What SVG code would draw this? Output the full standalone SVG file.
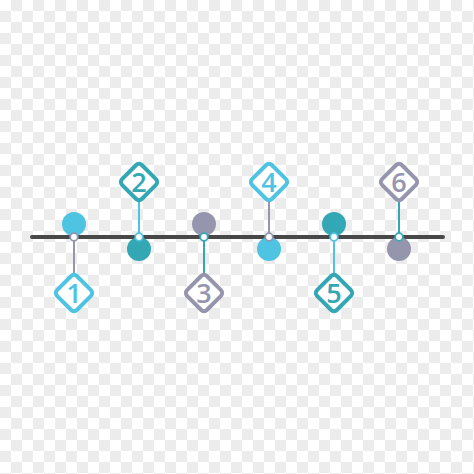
<svg xmlns="http://www.w3.org/2000/svg" width="474" height="474" viewBox="0 0 474 474">
<defs>
<pattern id="chk" x="0" y="0" width="22" height="22" patternUnits="userSpaceOnUse">
<rect width="22" height="22" fill="#ffffff"/>
<rect x="11" y="0" width="11" height="11" fill="#ececec"/>
<rect x="0" y="11" width="11" height="11" fill="#ececec"/>
</pattern>
</defs>
<style>
.dia{fill:#ffffff;stroke-width:4;}
.num{font-family:"Open Sans","Liberation Sans",sans-serif;font-size:27px;font-weight:600;text-anchor:middle;}
.stem{stroke-width:2;}
.dot{fill:#ffffff;stroke-width:1.8;}
.lb{fill:#4fc3e2;stroke:#4fc3e2;}
.tl{fill:#34a7b5;stroke:#34a7b5;}
.gy{fill:#9596ae;stroke:#9596ae;}
</style>
<rect width="474" height="474" fill="url(#chk)"/>
<g id="connectors">
<line x1="32" y1="237" x2="443" y2="237" stroke="#484848" stroke-width="4" stroke-linecap="round"/>
<line class="stem" x1="74" y1="237" x2="74" y2="274" stroke="#9596ae"/>
<line class="stem" x1="139" y1="237" x2="139" y2="202" stroke="#4fc3e2"/>
<line class="stem" x1="204" y1="237" x2="204" y2="274" stroke="#34a7b5"/>
<line class="stem" x1="269" y1="237" x2="269" y2="202" stroke="#9596ae"/>
<line class="stem" x1="334" y1="237" x2="334" y2="274" stroke="#4fc3e2"/>
<line class="stem" x1="399" y1="237" x2="399" y2="202" stroke="#34a7b5"/>
</g>
<g id="node1">
<circle cx="74" cy="224" r="12" fill="#4fc3e2"/>
<circle class="dot" cx="74" cy="237" r="3.8" stroke="#9596ae"/>
<rect class="dia" x="60" y="279" width="28" height="28" rx="4" transform="rotate(45 74 293)" stroke="#4fc3e2"/>
<text class="num" x="74" y="303" fill="#4fc3e2">1</text>
</g>
<g id="node2">
<circle cx="139" cy="249" r="12" fill="#34a7b5"/>
<circle class="dot" cx="139" cy="237" r="3.8" stroke="#4fc3e2"/>
<rect class="dia" x="125" y="168" width="28" height="28" rx="4" transform="rotate(45 139 182)" stroke="#34a7b5"/>
<text class="num" x="139" y="192" fill="#34a7b5">2</text>
</g>
<g id="node3">
<circle cx="204" cy="224" r="12" fill="#9596ae"/>
<circle class="dot" cx="204" cy="237" r="3.8" stroke="#34a7b5"/>
<rect class="dia" x="190" y="279" width="28" height="28" rx="4" transform="rotate(45 204 293)" stroke="#9596ae"/>
<text class="num" x="204" y="303" fill="#9596ae">3</text>
</g>
<g id="node4">
<circle cx="269" cy="249" r="12" fill="#4fc3e2"/>
<circle class="dot" cx="269" cy="237" r="3.8" stroke="#9596ae"/>
<rect class="dia" x="255" y="168" width="28" height="28" rx="4" transform="rotate(45 269 182)" stroke="#4fc3e2"/>
<text class="num" x="269" y="192" fill="#4fc3e2">4</text>
</g>
<g id="node5">
<circle cx="334" cy="224" r="12" fill="#34a7b5"/>
<circle class="dot" cx="334" cy="237" r="3.8" stroke="#4fc3e2"/>
<rect class="dia" x="320" y="279" width="28" height="28" rx="4" transform="rotate(45 334 293)" stroke="#34a7b5"/>
<text class="num" x="334" y="303" fill="#34a7b5">5</text>
</g>
<g id="node6">
<circle cx="399" cy="249" r="12" fill="#9596ae"/>
<circle class="dot" cx="399" cy="237" r="3.8" stroke="#34a7b5"/>
<rect class="dia" x="385" y="168" width="28" height="28" rx="4" transform="rotate(45 399 182)" stroke="#9596ae"/>
<text class="num" x="399" y="192" fill="#9596ae">6</text>
</g>
</svg>
